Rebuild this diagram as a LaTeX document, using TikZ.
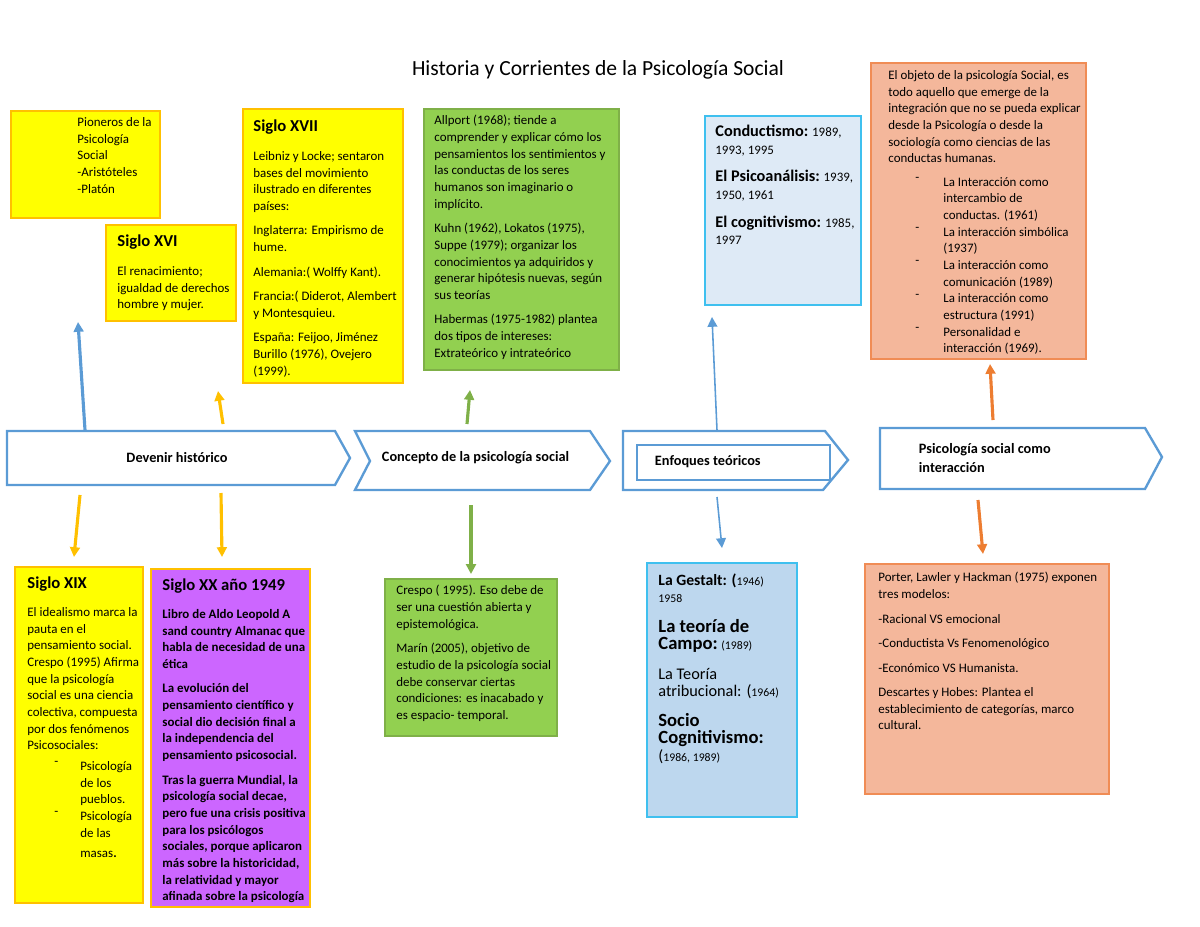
\documentclass[tikz,border=0pt]{standalone}
\usepackage{fontspec}
\setmainfont{Carlito}
\definecolor{ylw}{HTML}{FFFF00}
\definecolor{ylwb}{HTML}{FFC000}
\definecolor{grn}{HTML}{92D050}
\definecolor{grnb}{HTML}{7FB048}
\definecolor{bluel}{HTML}{DEEAF6}
\definecolor{blueb}{HTML}{3FC0EF}
\definecolor{blue2}{HTML}{BDD7EE}
\definecolor{salm}{HTML}{F4B79B}
\definecolor{salmb}{HTML}{F08C55}
\definecolor{purp}{HTML}{CC66FF}
\definecolor{arrblue}{HTML}{5B9BD5}
\definecolor{arrorange}{HTML}{ED7D31}
\tikzset{
  box/.style={draw, line width=1.2pt, anchor=north west, inner sep=0pt},
  txt/.style={anchor=north west, align=left, inner sep=0pt, font=\fontsize{6.6}{8.5}\selectfont},
  head/.style={anchor=north west, inner sep=0pt, font=\fontsize{8.5}{10}\selectfont\bfseries},
  flow/.style={draw=arrblue, line width=1.2pt, fill=white},
  arr/.style={-{Triangle[length=5pt,width=5pt]}, line width=1.6pt},
}
\usetikzlibrary{arrows.meta}
\begin{document}
\begin{tikzpicture}[x=0.51pt,y=-0.51pt]
\useasboundingbox (0,0) rectangle (1200,927);
\node[anchor=center, font=\fontsize{11}{13}\selectfont] (title) at (598,70) {Historia y Corrientes de la Psicología Social};

% flow shapes
\draw[flow] (7,431) -- (335,431) -- (350,458) -- (335,485) -- (7,485) -- cycle;
\node[font=\fontsize{7.3}{9}\selectfont\bfseries] (f1) at (177,458) {Devenir histórico};
\draw[flow] (355,431) -- (590,431) -- (610,461) -- (590,490) -- (355,490) -- (370,461) -- cycle;
\node[font=\fontsize{7.3}{9}\selectfont\bfseries, anchor=west] (f2) at (375,458) {Concepto de la psicología social};
\draw[flow] (623,431) -- (825,431) -- (848,460) -- (823,490) -- (623,490) -- cycle;
\draw[flow] (637,445) rectangle (830,480);
\node[font=\fontsize{7.3}{9}\selectfont\bfseries, anchor=west] (f3) at (648,462) {Enfoques teóricos};
\draw[flow] (880,428) -- (1145,428) -- (1162,457) -- (1145,489) -- (880,489) -- cycle;
\node[font=\fontsize{7.3}{10}\selectfont\bfseries, anchor=west, align=left] (f4) at (912,458) {Psicología social como\\interacción};

% top boxes
\node[box, draw=ylwb, fill=ylw, minimum width=149*0.51pt, minimum height=107*0.51pt] (pio) at (10,110) {};
\node[txt] at (77,117) {Pioneros de la\\Psicología\\Social\\-Aristóteles\\-Platón};

\node[box, draw=ylwb, fill=ylw, minimum width=130*0.51pt, minimum height=96*0.51pt] (s16) at (105,224) {};
\node[head] at (117,234) {Siglo XVI};
\node[txt] at (117,266) {El renacimiento;\\igualdad de derechos\\hombre y mujer.};

\node[box, draw=ylwb, fill=ylw, minimum width=160*0.51pt, minimum height=274*0.51pt] (s17) at (242,108) {};
\node[head] at (253,119) {Siglo XVII};
\node[txt] at (253,151) {Leibniz y Locke; sentaron\\bases del movimiento\\ilustrado en diferentes\\países:\\[4pt]Inglaterra: Empirismo de\\hume.\\[4pt]Alemania:( Wolffy Kant).\\[4pt]Francia:( Diderot, Alembert\\y Montesquieu.\\[4pt]España: Feijoo, Jiménez\\Burillo (1976), Ovejero\\(1999).};

\node[box, draw=grnb, fill=grn, minimum width=195*0.51pt, minimum height=261*0.51pt] (gtop) at (423,108) {};
\node[txt] at (434,115) {Allport (1968); tiende a\\comprender y explicar cómo los\\pensamientos los sentimientos y\\las conductas de los seres\\humanos son imaginario o\\implícito.\\[4pt]Kuhn (1962), Lokatos (1975),\\Suppe (1979); organizar los\\conocimientos ya adquiridos y\\generar hipótesis nuevas, según\\sus teorías\\[4pt]Habermas (1975-1982) plantea\\dos tipos de intereses:\\Extrateórico y intrateórico};

\node[box, draw=blueb, fill=bluel, minimum width=156*0.51pt, minimum height=189*0.51pt] (btop) at (704,115) {};
\node[anchor=north west, align=left, inner sep=0pt, font=\fontsize{6.6}{9}\selectfont] at (715,125) {{\fontsize{8.3}{9}\selectfont\bfseries Conductismo:} 1989,\\1993, 1995\\[5pt]{\fontsize{8.3}{9}\selectfont\bfseries El Psicoanálisis:} 1939,\\1950, 1961\\[5pt]{\fontsize{8.3}{9}\selectfont\bfseries El cognitivismo:} 1985,\\1997};

\node[box, draw=salmb, fill=salm, minimum width=215*0.51pt, minimum height=296*0.51pt] (stop) at (870,62) {};
\node[txt] at (888,70) {El objeto de la psicología Social, es\\todo aquello que emerge de la\\integración que no se pueda explicar\\desde la Psicología o desde la\\sociología como ciencias de las\\conductas humanas.};
\node[txt] at (915,177) {-\\\\\\-\\\\-\\\\-\\\\-};
\node[txt] at (943,177) {La Interacción como\\intercambio de\\conductas. (1961)\\La interacción simbólica\\(1937)\\La interacción como\\comunicación (1989)\\La interacción como\\estructura (1991)\\Personalidad e\\interacción (1969).};

% bottom boxes
\node[box, draw=ylwb, fill=ylw, minimum width=128*0.51pt, minimum height=336*0.51pt] (s19) at (14,566) {};
\node[head] at (27,576) {Siglo XIX};
\node[txt] at (27,607) {El idealismo marca la\\pauta en el\\pensamiento social.\\Crespo (1995) Afirma\\que la psicología\\social es una ciencia\\colectiva, compuesta\\por dos fenómenos\\Psicosociales:};
\node[txt] at (54,761) {-\\\\\\-};
\node[txt] at (80,761) {Psicología\\de los\\pueblos.\\Psicología\\de las\\[2pt]masas{\bfseries.}};

\node[box, draw=ylwb, fill=purp, minimum width=159*0.51pt, minimum height=338*0.51pt] (s20) at (150,568) {};
\node[head] at (162,578) {Siglo XX año 1949};
\node[txt, font=\fontsize{6.6}{8.5}\selectfont\bfseries] at (162,609) {Libro de Aldo Leopold A\\sand country Almanac que\\habla de necesidad de una\\ética\\[4pt]La evolución del\\pensamiento científico y\\social dio decisión final a\\la independencia del\\pensamiento psicosocial.\\[4pt]Tras la guerra Mundial, la\\psicología social decae,\\pero fue una crisis positiva\\para los psicólogos\\sociales, porque aplicaron\\más sobre la historicidad,\\la relatividad y mayor\\afinada sobre la psicología};

\node[box, draw=grnb, fill=grn, minimum width=172*0.51pt, minimum height=157*0.51pt] (gbot) at (384,578) {};
\node[txt] at (396,585) {Crespo ( 1995). Eso debe de\\ser una cuestión abierta y\\epistemológica.\\[4pt]Marín (2005), objetivo de\\estudio de la psicología social\\debe conservar ciertas\\condiciones: es inacabado y\\es espacio- temporal.};

\node[box, draw=blueb, fill=blue2, minimum width=150*0.51pt, minimum height=254*0.51pt] (bbot) at (646,562) {};
\node[anchor=north west, align=left, inner sep=0pt, font=\fontsize{6}{9}\selectfont] at (658,573) {{\fontsize{8}{9}\selectfont\bfseries La Gestalt: (}1946)\\1958\\[6pt]{\fontsize{9.5}{13}\selectfont\bfseries La teoría de}\\{\fontsize{9.5}{13}\selectfont\bfseries Campo:} (1989)\\[6pt]{\fontsize{8.3}{13}\selectfont La Teoría}\\{\fontsize{8.3}{13}\selectfont atribucional: (}1964)\\[6pt]{\fontsize{9.5}{13}\selectfont\bfseries Socio}\\{\fontsize{9.5}{13}\selectfont\bfseries Cognitivismo:}\\{\fontsize{8.3}{11}\selectfont (}1986, 1989)};

\node[box, draw=salmb, fill=salm, minimum width=244*0.51pt, minimum height=230*0.51pt] (sbot) at (864,563) {};
\node[txt] at (878,572) {Porter, Lawler y Hackman (1975) exponen\\tres modelos:\\[4pt]-Racional VS emocional\\[4pt]-Conductista Vs Fenomenológico\\[4pt]-Económico VS Humanista.\\[4pt]Descartes y Hobes:  Plantea el\\establecimiento de categorías, marco\\cultural.};

% connectors
\coordinate (a1s) at (85,430); \coordinate (a1e) at (78,322);
\draw[arr, draw=arrblue, fill=arrblue] (a1s) -- (a1e);
\coordinate (a2s) at (223,424); \coordinate (a2e) at (218,391);
\draw[arr, draw=ylwb, fill=ylwb] (a2s) -- (a2e);
\coordinate (a3s) at (80,495); \coordinate (a3e) at (74,557);
\draw[arr, draw=ylwb, fill=ylwb] (a3s) -- (a3e);
\coordinate (a4s) at (221,493); \coordinate (a4e) at (222,557);
\draw[arr, draw=ylwb, fill=ylwb] (a4s) -- (a4e);
\coordinate (a5s) at (467,424); \coordinate (a5e) at (470,390);
\draw[arr, draw=grnb, fill=grnb] (a5s) -- (a5e);
\coordinate (a6s) at (471,505); \coordinate (a6e) at (471,574);
\draw[arr, draw=grnb, fill=grnb] (a6s) -- (a6e);
\coordinate (a7s) at (717,430); \coordinate (a7e) at (712,317);
\draw[arr, line width=0.8pt, draw=arrblue, fill=arrblue] (a7s) -- (a7e);
\coordinate (a8s) at (717,497); \coordinate (a8e) at (722,548);
\draw[arr, line width=0.8pt, draw=arrblue, fill=arrblue] (a8s) -- (a8e);
\coordinate (a9s) at (993,420); \coordinate (a9e) at (990,364);
\draw[arr, draw=arrorange, fill=arrorange] (a9s) -- (a9e);
\coordinate (a10s) at (978,500); \coordinate (a10e) at (983,554);
\draw[arr, draw=arrorange, fill=arrorange] (a10s) -- (a10e);
\end{tikzpicture}
\end{document}
